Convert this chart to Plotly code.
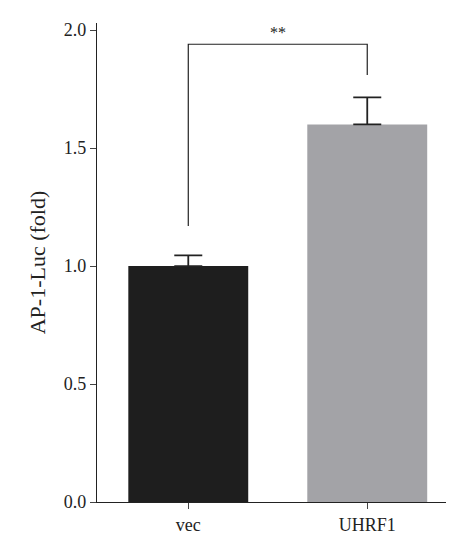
import plotly.graph_objects as go

categories = ["vec", "UHRF1"]
values = [1.0, 1.6]
errors = [0.045, 0.115]
colors = ["#1e1e1e", "#a3a3a7"]
bracket_left_y = 1.17
bracket_top_y = 1.94
bracket_right_y = 1.81
sig_label = "**"

xs = list(range(len(categories)))
fig = go.Figure(go.Bar(
    x=xs, y=values, width=0.67, marker_color=colors, marker_line_width=0,
    error_y=dict(type="data", array=errors, arrayminus=[0, 0], symmetric=False,
                 color="#222", thickness=1.8, width=14),
))
fig.add_trace(go.Scatter(
    x=[xs[0], xs[0], xs[1], xs[1]],
    y=[bracket_left_y, bracket_top_y, bracket_top_y, bracket_right_y],
    mode="lines", line=dict(color="#222", width=1.2), hoverinfo="skip"))
fig.add_annotation(x=(xs[0] + xs[1]) / 2, y=bracket_top_y, text=sig_label,
                   showarrow=False, yshift=12, font=dict(size=16, color="#222"))
fig.update_layout(
    width=474, height=560, showlegend=False, plot_bgcolor="white", paper_bgcolor="white",
    margin=dict(l=89, r=36, t=12, b=66),
    font=dict(family="Liberation Serif", size=18, color="#222"),
    xaxis=dict(range=[-0.51, 1.44], tickvals=xs, ticktext=categories, showline=True,
               linecolor="#222", linewidth=1.2, ticks="outside", ticklen=6, showgrid=False,
               zeroline=False),
    yaxis=dict(range=[0, 2.03], tickvals=[0, 0.5, 1.0, 1.5, 2.0],
               ticktext=["0.0", "0.5", "1.0", "1.5", "2.0"], showline=True,
               linecolor="#222", linewidth=1.2, ticks="outside", ticklen=6, showgrid=False,
               zeroline=False, title=dict(text="AP-1-Luc (fold)", standoff=12)),
)
fig.write_html("out.html")
